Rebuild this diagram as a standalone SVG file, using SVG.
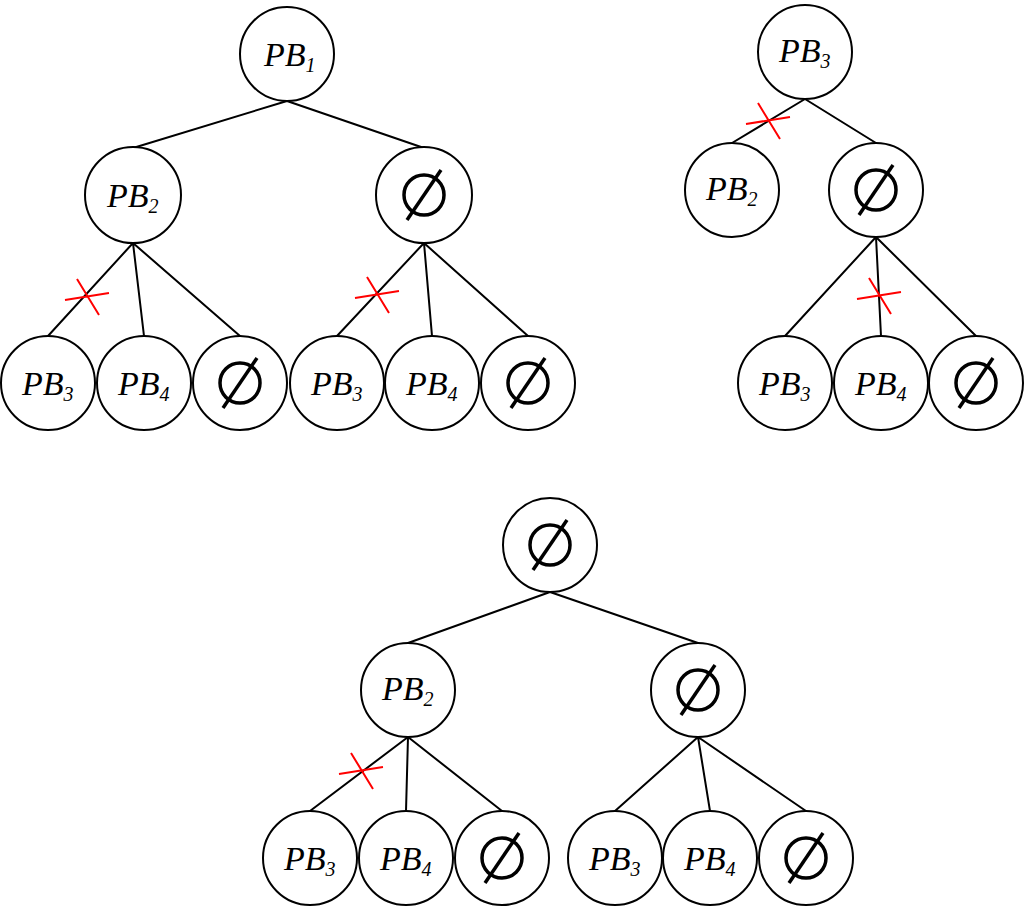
<svg xmlns="http://www.w3.org/2000/svg" width="1025" height="920" viewBox="0 0 1025 920">
<style>
.n{fill:#fff;stroke:#000;stroke-width:2}
.e{stroke:#000;stroke-width:2;fill:none}
.x{stroke:#f00;stroke-width:2;fill:none}
.t{font-family:"Liberation Serif",serif;font-style:italic;font-size:34px}
.s{font-family:"Liberation Serif",serif;font-size:20px}
.o{stroke:#000;stroke-width:3.5;fill:none}
</style>
<defs>
<g id="empty"><circle class="o" cx="0" cy="0" r="20"/><line class="o" x1="-17" y1="25" x2="17" y2="-25"/></g>
<g id="cross"><path class="x" d="M-22,3 L22,-4 M-10,-18 L12,18"/></g>
</defs>
<rect width="1025" height="920" fill="#fff"/>
<g id="edges">
<path class="e" d="M287,101 L133,148 M287,101 L424,148 M133,243 L48,336 M133,243 L144,336 M133,243 L240,336 M424,243 L337,336 M424,243 L432,336 M424,243 L528,336"/>
<path class="e" d="M805,99 L732,143 M805,99 L876,143 M876,237 L785,336 M876,237 L881,336 M876,237 L976,336"/>
<path class="e" d="M550,592 L408,643 M550,592 L698,643 M408,737 L310,811 M408,737 L406,811 M408,737 L502,811 M698,737 L615,811 M698,737 L710,811 M698,737 L806,811"/>
<use href="#cross" x="87" y="297"/><use href="#cross" x="377" y="295"/><use href="#cross" x="768" y="121"/><use href="#cross" x="879" y="296"/><use href="#cross" x="361" y="771"/>
</g>
<g id="t1_root"><circle class="n" cx="287" cy="54" r="47"/><text class="t" x="264" y="66">PB<tspan class="s" dy="6">1</tspan></text></g>
<g id="t1_pb2"><circle class="n" cx="133" cy="195" r="48"/><text class="t" x="107" y="207">PB<tspan class="s" dy="6">2</tspan></text></g>
<g id="t1_e"><circle class="n" cx="424" cy="195" r="48"/><use href="#empty" x="424" y="195"/></g>
<g id="t1_a"><circle class="n" cx="48" cy="383" r="47"/><text class="t" x="22" y="395">PB<tspan class="s" dy="6">3</tspan></text></g>
<g id="t1_b"><circle class="n" cx="144" cy="383" r="47"/><text class="t" x="118" y="395">PB<tspan class="s" dy="6">4</tspan></text></g>
<g id="t1_c"><circle class="n" cx="240" cy="383" r="47"/><use href="#empty" x="240" y="383"/></g>
<g id="t1_d"><circle class="n" cx="337" cy="383" r="47"/><text class="t" x="311" y="395">PB<tspan class="s" dy="6">3</tspan></text></g>
<g id="t1_f"><circle class="n" cx="432" cy="383" r="47"/><text class="t" x="406" y="395">PB<tspan class="s" dy="6">4</tspan></text></g>
<g id="t1_g"><circle class="n" cx="528" cy="383" r="47"/><use href="#empty" x="528" y="383"/></g>
<g id="t2_root"><circle class="n" cx="805" cy="52" r="47"/><text class="t" x="779" y="62">PB<tspan class="s" dy="6">3</tspan></text></g>
<g id="t2_pb2"><circle class="n" cx="732" cy="190" r="47"/><text class="t" x="706" y="200">PB<tspan class="s" dy="6">2</tspan></text></g>
<g id="t2_e"><circle class="n" cx="876" cy="190" r="47"/><use href="#empty" x="876" y="190"/></g>
<g id="t2_a"><circle class="n" cx="785" cy="383" r="47"/><text class="t" x="759" y="395">PB<tspan class="s" dy="6">3</tspan></text></g>
<g id="t2_b"><circle class="n" cx="881" cy="383" r="47"/><text class="t" x="855" y="395">PB<tspan class="s" dy="6">4</tspan></text></g>
<g id="t2_c"><circle class="n" cx="976" cy="383" r="47"/><use href="#empty" x="976" y="383"/></g>
<g id="t3_root"><circle class="n" cx="550" cy="545" r="47"/><use href="#empty" x="550" y="545"/></g>
<g id="t3_pb2"><circle class="n" cx="408" cy="690" r="47"/><text class="t" x="382" y="700">PB<tspan class="s" dy="6">2</tspan></text></g>
<g id="t3_e"><circle class="n" cx="698" cy="690" r="47"/><use href="#empty" x="698" y="690"/></g>
<g id="t3_a"><circle class="n" cx="310" cy="858" r="47"/><text class="t" x="284" y="870">PB<tspan class="s" dy="6">3</tspan></text></g>
<g id="t3_b"><circle class="n" cx="406" cy="858" r="47"/><text class="t" x="380" y="870">PB<tspan class="s" dy="6">4</tspan></text></g>
<g id="t3_c"><circle class="n" cx="502" cy="858" r="47"/><use href="#empty" x="502" y="858"/></g>
<g id="t3_d"><circle class="n" cx="615" cy="858" r="47"/><text class="t" x="589" y="870">PB<tspan class="s" dy="6">3</tspan></text></g>
<g id="t3_f"><circle class="n" cx="710" cy="858" r="47"/><text class="t" x="684" y="870">PB<tspan class="s" dy="6">4</tspan></text></g>
<g id="t3_g"><circle class="n" cx="806" cy="858" r="47"/><use href="#empty" x="806" y="858"/></g>
</svg>
